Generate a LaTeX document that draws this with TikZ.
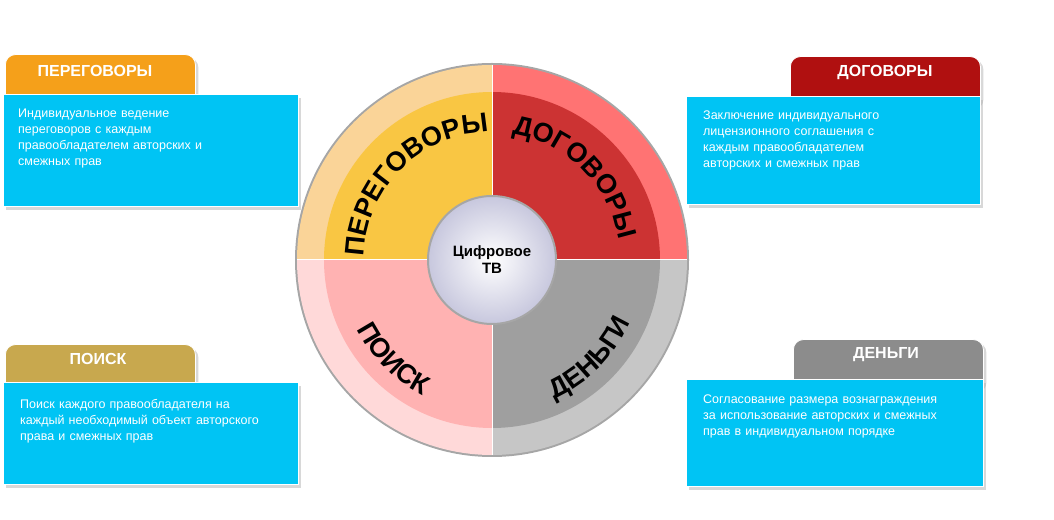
\documentclass[tikz,border=0pt]{standalone}
\usepackage{fontspec}
\setmainfont{Liberation Sans}
\usetikzlibrary{decorations.text,shadows}
\definecolor{cyanbox}{HTML}{00C4F4}
\definecolor{orangetab}{HTML}{F5A01A}
\definecolor{redtab}{HTML}{B01010}
\definecolor{khakitab}{HTML}{C8A84E}
\definecolor{graytab}{HTML}{8C8C8C}
\tikzset{
 infobox/.style={fill=cyanbox,draw=white,line width=0.8pt,drop shadow={shadow xshift=3pt,shadow yshift=-3pt,fill=gray!60}},
 tabbox/.style={rounded corners=10pt,draw=white,line width=0.8pt,drop shadow={shadow xshift=3pt,shadow yshift=-3pt,fill=gray!60}},
 tabtext/.style={text=white,font=\bfseries\fontsize{16}{18}\selectfont},
 bodytext/.style={text=white,font=\fontsize{12.5}{16}\selectfont,align=left,anchor=north west,text width=270pt,inner sep=0pt},
 ringtext/.style={decorate,decoration={text along path,text align=center,text={|\fontsize{27}{27}\selectfont\bfseries|#1}}}
}
\begin{document}
\begin{tikzpicture}[x=1pt,y=1pt]
\useasboundingbox (0,0) rectangle (1054,519);
\coordinate (C) at (492,259);
\fill[black!35] (C) circle (197);
\fill[orangetab!45!white] (C) -- ++(90:195) arc (90:180:195) -- cycle;
\fill[red!55!white] (C) -- ++(0:195) arc (0:90:195) -- cycle;
\fill[gray!45] (C) -- ++(270:195) arc (270:360:195) -- cycle;
\fill[pink!60!white] (C) -- ++(180:195) arc (180:270:195) -- cycle;
\fill[orangetab!75!yellow!80!white] (C) -- ++(90:168) arc (90:180:168) -- cycle;
\fill[red!75!black!80!white] (C) -- ++(0:168) arc (0:90:168) -- cycle;
\fill[gray!75] (C) -- ++(270:168) arc (270:360:168) -- cycle;
\fill[red!30!white] (C) -- ++(180:168) arc (180:270:168) -- cycle;
\draw[white,line width=1pt] (C) ++(0:195) -- ++(180:390) (C) ++(90:195) -- ++(270:390);
\path[ringtext=ПЕРЕГОВОРЫ] (C) ++(188:128) arc (188:82:128);
\path[ringtext=ДОГОВОРЫ] (C) ++(98:128) arc (98:-8:128);
\path[ringtext=ДЕНЬГИ] (C) ++(-92:152) arc (-92:2:152);
\path[ringtext=ПОИСК] (C) ++(178:152) arc (178:272:152);
\node[circle,minimum size=128pt,draw=gray!70,line width=2pt,inner color=white,outer color=blue!25!gray!35,
 font=\bfseries\fontsize{15}{17}\selectfont,align=center] (ctr) at (C) {Цифровое\\ТВ};
% top-left
\node[tabbox,fill=orangetab,minimum width=190pt,minimum height=50pt,anchor=south west] (t1) at (5,414) {};
\node[tabtext] at (95,448) {ПЕРЕГОВОРЫ};
\node[infobox,minimum width=295pt,minimum height=112pt,anchor=south west] (b1) at (3,312) {};
\node[bodytext,text width=205pt] at (18,410) {Индивидуальное ведение переговоров с каждым правообладателем авторских и смежных прав};
% top-right
\node[tabbox,fill=redtab,minimum width=190pt,minimum height=50pt,anchor=south west] (t2) at (790,412) {};
\node[tabtext] at (885,446) {ДОГОВОРЫ};
\node[infobox,minimum width=294pt,minimum height=108pt,anchor=south west] (b2) at (686,314) {};
\node[bodytext,text width=215pt] at (703,408) {Заключение индивидуального лицензионного соглашения с каждым правообладателем авторских и смежных прав};
% bottom-left
\node[tabbox,fill=khakitab,minimum width=190pt,minimum height=48pt,anchor=south west] (t3) at (5,126) {};
\node[tabtext] at (98,160) {ПОИСК};
\node[infobox,minimum width=295pt,minimum height=102pt,anchor=south west] (b3) at (3,34) {};
\node[bodytext,text width=250pt] at (20,120) {Поиск каждого правообладателя на каждый необходимый объект авторского права и смежных прав};
% bottom-right
\node[tabbox,fill=graytab,minimum width=190pt,minimum height=50pt,anchor=south west] (t4) at (793,129) {};
\node[tabtext] at (886,164) {ДЕНЬГИ};
\node[infobox,minimum width=297pt,minimum height=107pt,anchor=south west] (b4) at (686,32) {};
\node[bodytext,text width=240pt] at (703,124) {Согласование размера вознаграждения за использование авторских и смежных прав в индивидуальном порядке};
\end{tikzpicture}
\end{document}
